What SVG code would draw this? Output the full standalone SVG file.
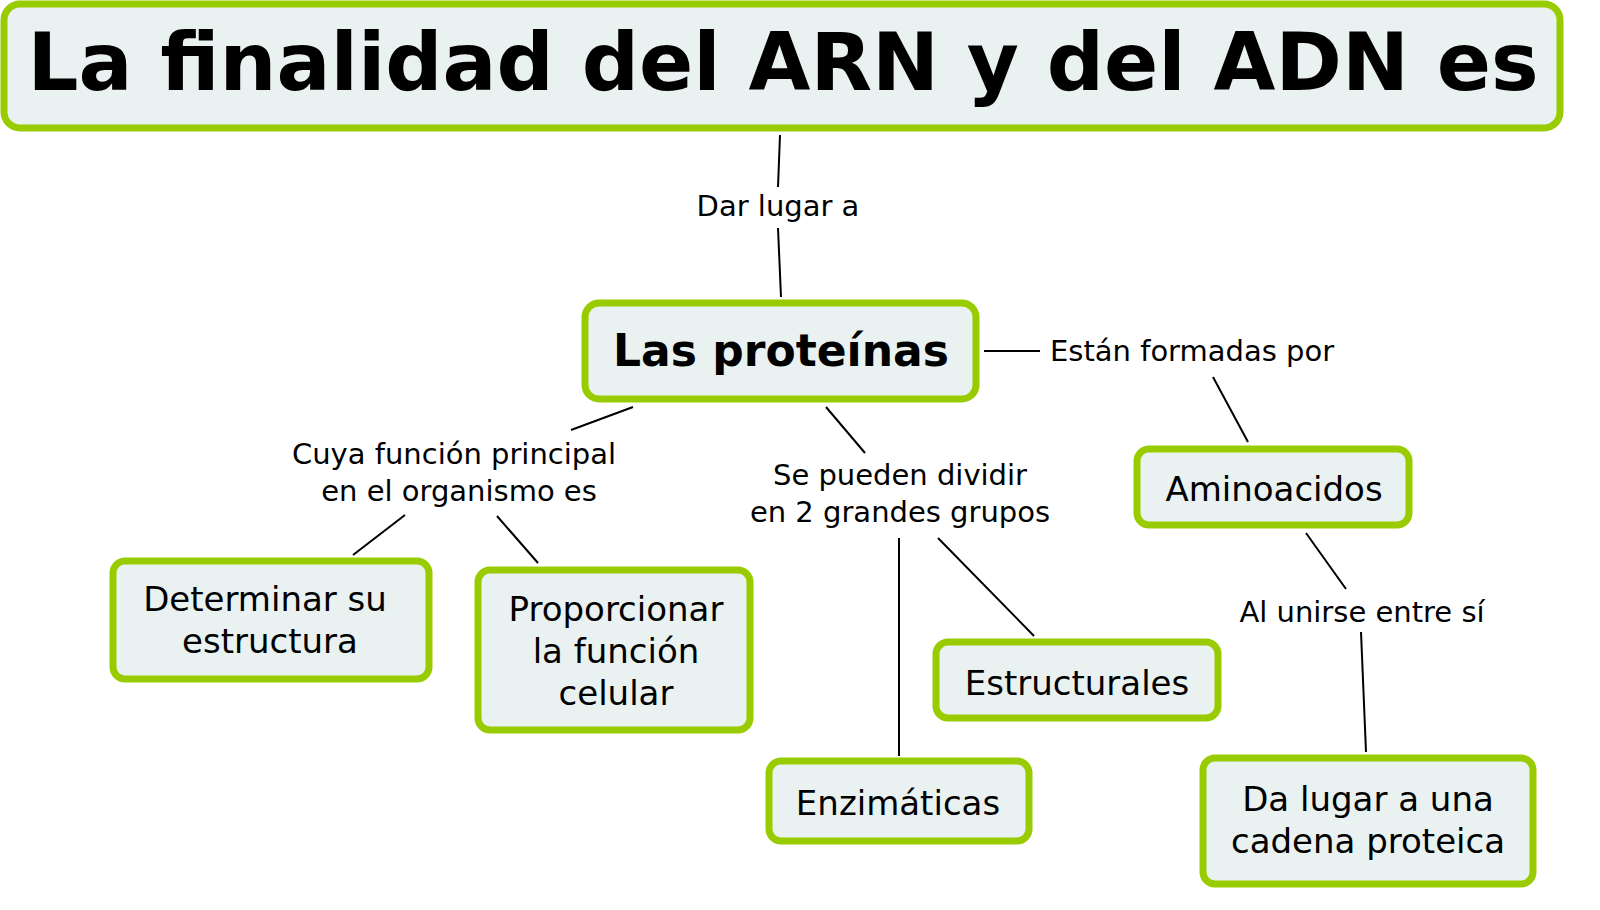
<svg xmlns="http://www.w3.org/2000/svg" width="1600" height="910" viewBox="0 0 1600 910">
<style>
.n{fill:#e9f1f1;stroke:#99cc00;stroke-width:7}
.t{font-family:"DejaVu Sans",sans-serif;font-size:34px;fill:#000;text-anchor:middle}
.l{font-family:"DejaVu Sans",sans-serif;font-size:29px;fill:#000;text-anchor:middle}
.c{stroke:#000;stroke-width:2;fill:none}
</style>
<rect width="1600" height="910" fill="#fff"/>
<g id="title"><rect class="n" x="4" y="4" width="1556" height="124" rx="16"/><text class="t" x="783" y="90" style="font-size:80px;font-weight:bold">La finalidad del ARN y del ADN es</text></g>
<g id="proteinas"><rect class="n" x="585" y="303" width="391" height="96" rx="14"/><text class="t" x="781" y="366" style="font-size:44px;font-weight:bold">Las proteínas</text></g>
<g id="aminoacidos"><rect class="n" x="1137" y="449" width="272" height="76" rx="12"/><text class="t" x="1274" y="501">Aminoacidos</text></g>
<g id="determinar"><rect class="n" x="113" y="561" width="316" height="118" rx="12"/><text class="t" x="265" y="611">Determinar su</text><text class="t" x="270" y="653">estructura</text></g>
<g id="proporcionar"><rect class="n" x="478" y="570" width="272" height="160" rx="12"/><text class="t" x="616" y="621">Proporcionar</text><text class="t" x="616" y="663">la función</text><text class="t" x="616" y="705">celular</text></g>
<g id="estructurales"><rect class="n" x="936" y="642" width="282" height="76" rx="12"/><text class="t" x="1077" y="695">Estructurales</text></g>
<g id="enzimaticas"><rect class="n" x="769" y="761" width="260" height="80" rx="12"/><text class="t" x="898" y="815">Enzimáticas</text></g>
<g id="cadena"><rect class="n" x="1203" y="758" width="330" height="126" rx="12"/><text class="t" x="1368" y="811">Da lugar a una</text><text class="t" x="1368" y="853">cadena proteica</text></g>
<g id="connectors">
<path class="c" d="M780 135L778 187M778 228L781 297M984 351H1040M1213 377L1248 442M633 407L571 430M826 407L865 453M405 515L353 555M497 516L538 563M899 538V756M938 538L1034 636M1306 533L1346 589M1361 632L1366 752"/>
<text class="l" x="778" y="216">Dar lugar a</text>
<text class="l" x="1050" y="361" style="text-anchor:start">Están formadas por</text>
<text class="l" x="454" y="464">Cuya función principal</text>
<text class="l" x="459" y="501">en el organismo es</text>
<text class="l" x="900" y="485">Se pueden dividir</text>
<text class="l" x="900" y="522">en 2 grandes grupos</text>
<text class="l" x="1362" y="622">Al unirse entre sí</text>
</g>
</svg>
